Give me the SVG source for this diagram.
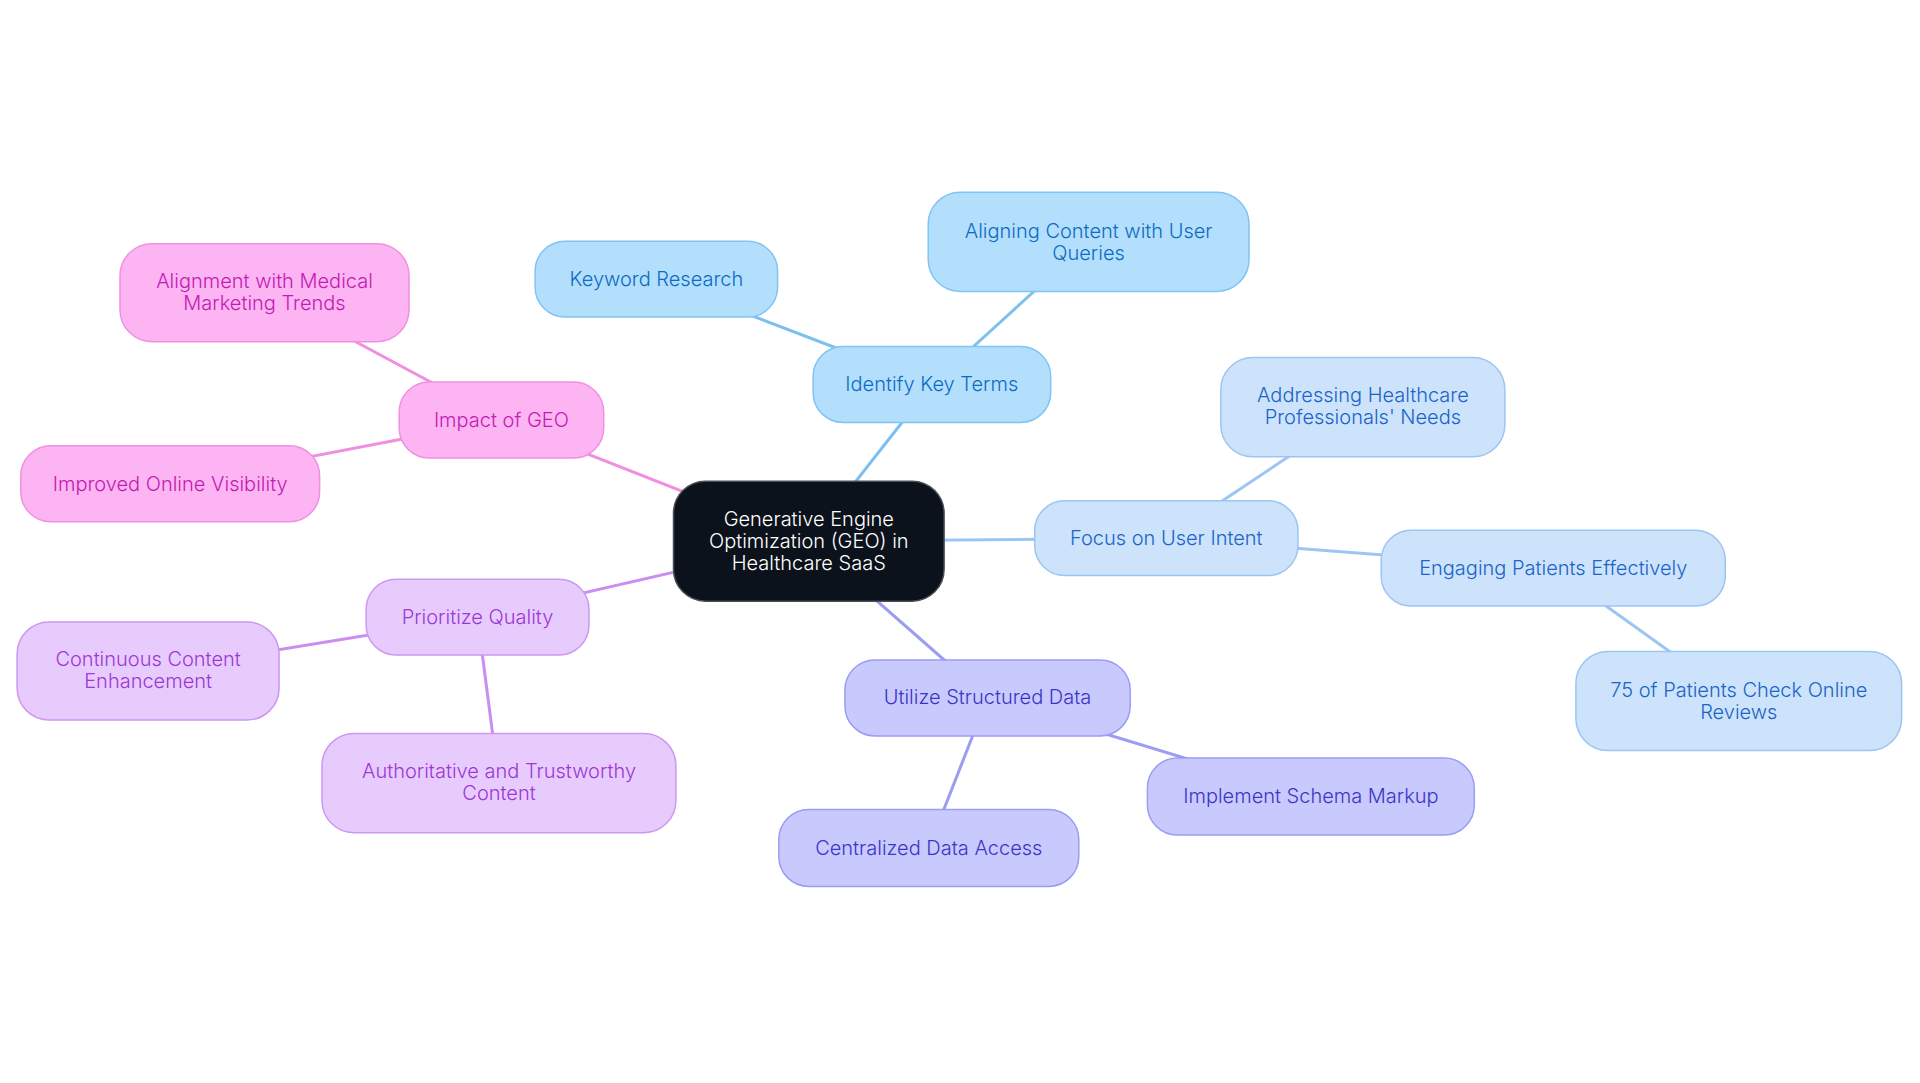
<svg xmlns="http://www.w3.org/2000/svg" width="1920" height="1083" viewBox="0 0 1920 1083">
<style>
text{font-family:Inter,"Noto Sans","Liberation Sans",sans-serif;font-size:20px;font-weight:300;text-anchor:middle;dominant-baseline:central}
.e{fill:none;stroke-width:3;stroke-linecap:round}
.sky rect{fill:#b3dffc;stroke:#80c4f4;stroke-width:1.5}
.sky text{fill:#0c6cc4}
.ble rect{fill:#cce3fb;stroke:#9cc5f2;stroke-width:1.5}
.ble text{fill:#1b64c8}
.ind rect{fill:#c8c9fd;stroke:#9b9cf2;stroke-width:1.5}
.ind text{fill:#3b35c8}
.vio rect{fill:#e8cbfd;stroke:#cc98f2;stroke-width:1.5}
.vio text{fill:#9b38d6}
.pnk rect{fill:#fcb4f2;stroke:#f090e0;stroke-width:1.5}
.pnk text{fill:#c41ab4}
</style>
<rect width="1920" height="1083" fill="#ffffff"/>
<g id="connectors">
<line class="e" stroke="#7cc0f0" x1="808.8" y1="541.2" x2="931.8" y2="384.5"/>
<line class="e" stroke="#7cc0f0" x1="931.8" y1="384.5" x2="656.5" y2="279.2"/>
<line class="e" stroke="#7cc0f0" x1="931.8" y1="384.5" x2="1088.6" y2="241.6"/>
<line class="e" stroke="#9cc5f2" x1="808.8" y1="541.2" x2="1166.3" y2="538.2"/>
<line class="e" stroke="#9cc5f2" x1="1166.3" y1="538.2" x2="1362.9" y2="407.1"/>
<line class="e" stroke="#9cc5f2" x1="1166.3" y1="538.2" x2="1553.3" y2="568.2"/>
<line class="e" stroke="#9cc5f2" x1="1553.3" y1="568.2" x2="1738.8" y2="701"/>
<line class="e" stroke="#9b9cf2" x1="808.8" y1="541.2" x2="987.5" y2="698"/>
<line class="e" stroke="#9b9cf2" x1="987.5" y1="698" x2="1310.9" y2="796.5"/>
<line class="e" stroke="#9b9cf2" x1="987.5" y1="698" x2="928.8" y2="847.9"/>
<line class="e" stroke="#c98ef0" x1="808.8" y1="541.2" x2="477.5" y2="617.2"/>
<line class="e" stroke="#c98ef0" x1="477.5" y1="617.2" x2="148.1" y2="671"/>
<line class="e" stroke="#c98ef0" x1="477.5" y1="617.2" x2="499" y2="783"/>
<line class="e" stroke="#f08ee0" x1="808.8" y1="541.2" x2="501.4" y2="420"/>
<line class="e" stroke="#f08ee0" x1="501.4" y1="420" x2="264.5" y2="292.7"/>
<line class="e" stroke="#f08ee0" x1="501.4" y1="420" x2="170.2" y2="483.7"/>
</g>
<g id="center">
<rect x="673.5" y="481.2" width="270.6" height="120" rx="32" fill="#0c121b" stroke="#4a4f57" stroke-width="1.5"/>
<text x="808.8" y="519" fill="#ffffff">Generative Engine</text>
<text x="808.8" y="541" fill="#ffffff">Optimization (GEO) in</text>
<text x="808.8" y="563" fill="#ffffff">Healthcare SaaS</text>
</g>
<g id="identify" class="sky">
<rect x="813.1" y="346.5" width="237.6" height="75.9" rx="30"/>
<text x="931.8" y="384">Identify Key Terms</text>
</g>
<g id="keyword" class="sky">
<rect x="535.1" y="241.2" width="242.5" height="75.9" rx="30"/>
<text x="656.4" y="279">Keyword Research</text>
</g>
<g id="aligning" class="sky">
<rect x="928.2" y="192.2" width="320.8" height="99.2" rx="32"/>
<text x="1088.6" y="230.5">Aligning Content with User</text>
<text x="1088.6" y="252.5">Queries</text>
</g>
<g id="focus" class="ble">
<rect x="1034.7" y="500.8" width="263.3" height="74.7" rx="30"/>
<text x="1166.3" y="538">Focus on User Intent</text>
</g>
<g id="addressing" class="ble">
<rect x="1220.8" y="357.6" width="284.1" height="99.2" rx="32"/>
<text x="1362.9" y="394.5">Addressing Healthcare</text>
<text x="1362.9" y="417">Professionals' Needs</text>
</g>
<g id="engaging" class="ble">
<rect x="1381.2" y="530.2" width="344.1" height="75.9" rx="30"/>
<text x="1553.3" y="568.2">Engaging Patients Effectively</text>
</g>
<g id="reviews" class="ble">
<rect x="1575.9" y="651.4" width="325.7" height="99.2" rx="32"/>
<text x="1738.8" y="689.5">75 of Patients Check Online</text>
<text x="1738.8" y="711.5">Reviews</text>
</g>
<g id="utilize" class="ind">
<rect x="844.9" y="660" width="285.3" height="75.9" rx="30"/>
<text x="987.5" y="697">Utilize Structured Data</text>
</g>
<g id="schema" class="ind">
<rect x="1147.4" y="758" width="326.9" height="77" rx="30"/>
<text x="1310.9" y="796">Implement Schema Markup</text>
</g>
<g id="centralized" class="ind">
<rect x="778.8" y="809.4" width="300" height="77" rx="30"/>
<text x="928.8" y="847.5">Centralized Data Access</text>
</g>
<g id="prioritize" class="vio">
<rect x="366.1" y="579.2" width="222.9" height="75.9" rx="30"/>
<text x="477.5" y="617">Prioritize Quality</text>
</g>
<g id="continuous" class="vio">
<rect x="17.1" y="622" width="262" height="98" rx="32"/>
<text x="148.1" y="659">Continuous Content</text>
<text x="148.1" y="681">Enhancement</text>
</g>
<g id="authoritative" class="vio">
<rect x="322" y="733.5" width="353.9" height="99.2" rx="32"/>
<text x="499" y="770.5">Authoritative and Trustworthy</text>
<text x="499" y="792.5">Content</text>
</g>
<g id="impact" class="pnk">
<rect x="399.2" y="382" width="204.5" height="76" rx="30"/>
<text x="501.4" y="420">Impact of GEO</text>
</g>
<g id="alignment" class="pnk">
<rect x="120" y="243.7" width="289" height="98" rx="32"/>
<text x="264.5" y="280.5">Alignment with Medical</text>
<text x="264.5" y="302.5">Marketing Trends</text>
</g>
<g id="improved" class="pnk">
<rect x="20.8" y="445.7" width="298.8" height="76" rx="30"/>
<text x="170.2" y="483.7">Improved Online Visibility</text>
</g>
</svg>
